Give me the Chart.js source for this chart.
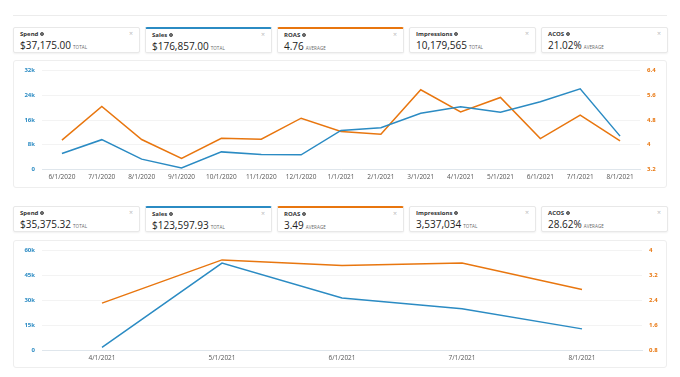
<!DOCTYPE html>
<html>
<head>
<meta charset="utf-8">
<script src="https://cdn.jsdelivr.net/npm/chart.js@4.4.1/dist/chart.umd.min.js"></script>
<style>
  html,body{margin:0;padding:0;background:#fff;width:680px;height:377px;overflow:hidden;font-family:"Open Sans","Noto Sans",Arial,sans-serif;}
  .topline{position:absolute;left:13px;top:15px;width:654px;height:1px;background:#ececec;}
  .card{position:absolute;width:125px;height:24px;background:#fff;border:1px solid #e8e8e8;border-radius:2px;box-shadow:0 1px 2px rgba(0,0,0,0.06);}
  .card .lab{position:absolute;left:6px;top:2px;font-size:6px;font-weight:700;color:#333;white-space:nowrap;}
  .card .ic{display:inline-block;width:4px;height:4px;border:0.8px solid #555;border-radius:50%;margin-left:2px;vertical-align:middle;position:relative;top:-0.5px;box-sizing:border-box;background:#777;}
  .card .val{position:absolute;left:6px;top:10px;font-size:10px;color:#222;white-space:nowrap;}
  .card .suf{font-size:4.5px;color:#666;text-transform:uppercase;margin-left:2px;letter-spacing:0.1px;}
  .card .x{position:absolute;right:6px;top:1px;font-size:7px;color:#bbb;}
  .panel{position:absolute;left:13px;width:652px;height:126px;border:1px solid #eeeeee;border-radius:3px;background:#fff;}
  canvas{position:absolute;}
</style>
</head>
<body>
<div class="topline"></div>
<div id="cards"></div>
<div class="panel" style="top:60px"></div>
<div class="panel" style="top:240px"></div>
<canvas id="c1" width="654" height="128" style="left:13px;top:60px;width:654px;height:128px"></canvas>
<canvas id="c2" width="654" height="128" style="left:13px;top:240px;width:654px;height:128px"></canvas>
<script>
// ---- data ----
const cardLabels = ["Spend", "Sales", "ROAS", "Impressions", "ACOS"];
const cardSuffixes = ["TOTAL", "TOTAL", "AVERAGE", "TOTAL", "AVERAGE"];
const cardValuesTop = ["$37,175.00", "$176,857.00", "4.76", "10,179,565", "21.02%"];
const cardValuesBottom = ["$35,375.32", "$123,597.93", "3.49", "3,537,034", "28.62%"];

const monthsTop = ["6/1/2020","7/1/2020","8/1/2020","9/1/2020","10/1/2020","11/1/2020","12/1/2020","1/1/2021","2/1/2021","3/1/2021","4/1/2021","5/1/2021","6/1/2021","7/1/2021","8/1/2021"];
const salesTop = [5200, 9650, 3350, 500, 5700, 4850, 4750, 12650, 13500, 18200, 20300, 18500, 21900, 26100, 10800];
const roasTop = [4.15, 5.24, 4.17, 3.56, 4.21, 4.18, 4.86, 4.43, 4.34, 5.78, 5.06, 5.53, 4.20, 4.96, 4.13];
const leftTicksTop = [0, 8000, 16000, 24000, 32000];
const rightTicksTop = [3.2, 4, 4.8, 5.6, 6.4];

const monthsBottom = ["4/1/2021","5/1/2021","6/1/2021","7/1/2021","8/1/2021"];
const salesBottom = [1550, 52500, 31350, 24900, 12750];
const roasBottom = [2.31, 3.70, 3.52, 3.60, 2.75];
const leftTicksBottom = [0, 15000, 30000, 45000, 60000];
const rightTicksBottom = [0.8, 1.6, 2.4, 3.2, 4];

const BLUE = "#2b8bc3";
const ORANGE = "#e8760f";

// ---- cards ----
const cardsEl = document.getElementById("cards");
function buildCards(values, top) {
  values.forEach((v, i) => {
    const d = document.createElement("div");
    d.className = "card";
    d.style.left = (13 + i * 132) + "px";
    d.style.top = top + "px";
    if (i === 1) { d.style.borderTop = "2px solid " + BLUE; d.style.height = "23px"; }
    if (i === 2) { d.style.borderTop = "2px solid " + ORANGE; d.style.height = "23px"; }
    d.innerHTML = '<div class="lab">' + cardLabels[i] + '<span class="ic"></span></div>' +
      '<div class="val">' + v + '<span class="suf">' + cardSuffixes[i] + '</span></div>' +
      '<div class="x">\u00D7</div>';
    cardsEl.appendChild(d);
  });
}
buildCards(cardValuesTop, 27);
buildCards(cardValuesBottom, 206);

function fmtK(v) { return v === 0 ? "0" : (v / 1000) + "k"; }
function fmtR(v) { return String(parseFloat(Number(v).toFixed(1))); }

function makeChart(id, labels, sales, roas, lt, rt, padTop, rightW) {
  new Chart(document.getElementById(id), {
    type: "line",
    data: {
      labels: labels,
      datasets: [
        { data: sales, yAxisID: "y", borderColor: BLUE, borderWidth: 1.5, pointRadius: 0, tension: 0, fill: false },
        { data: roas, yAxisID: "y1", borderColor: ORANGE, borderWidth: 1.5, pointRadius: 0, tension: 0, fill: false }
      ]
    },
    options: {
      responsive: false,
      animation: false,
      events: [],
      layout: { padding: { top: padTop, left: 0, right: 0, bottom: 0 } },
      plugins: { legend: { display: false }, tooltip: { enabled: false } },
      scales: {
        x: {
          offset: true,
          grid: { display: false, drawTicks: false },
          border: { color: "#dfe6ec", width: 1 },
          ticks: { color: "#555", font: { size: 6.5, family: "Open Sans" }, padding: 4, maxRotation: 0, autoSkip: false },
          afterFit: s => { s.height = 128 - padTop - 100.5 + (padTop === 9 ? 0 : -1.5); }
        },
        y: {
          position: "left",
          min: lt[0], max: lt[lt.length - 1],
          afterBuildTicks: s => { s.ticks = lt.map(v => ({ value: v })); },
          grid: { color: "#f3f3f3", drawTicks: false },
          border: { display: false },
          ticks: { color: BLUE, font: { size: 6, weight: "bold", family: "Open Sans" }, padding: 7, callback: fmtK },
          afterFit: s => { s.width = 29; }
        },
        y1: {
          position: "right",
          min: rt[0], max: rt[rt.length - 1],
          afterBuildTicks: s => { s.ticks = rt.map(v => ({ value: v })); },
          grid: { drawOnChartArea: false, drawTicks: false },
          border: { display: false },
          ticks: { color: ORANGE, font: { size: 6, weight: "bold", family: "Open Sans" }, padding: 7, callback: fmtR },
          afterFit: s => { s.width = rightW; }
        }
      }
    }
  });
}
makeChart("c1", monthsTop, salesTop, roasTop, leftTicksTop, rightTicksTop, 9, 27);
makeChart("c2", monthsBottom, salesBottom, roasBottom, leftTicksBottom, rightTicksBottom, 8, 25);
</script>
</body>
</html>
